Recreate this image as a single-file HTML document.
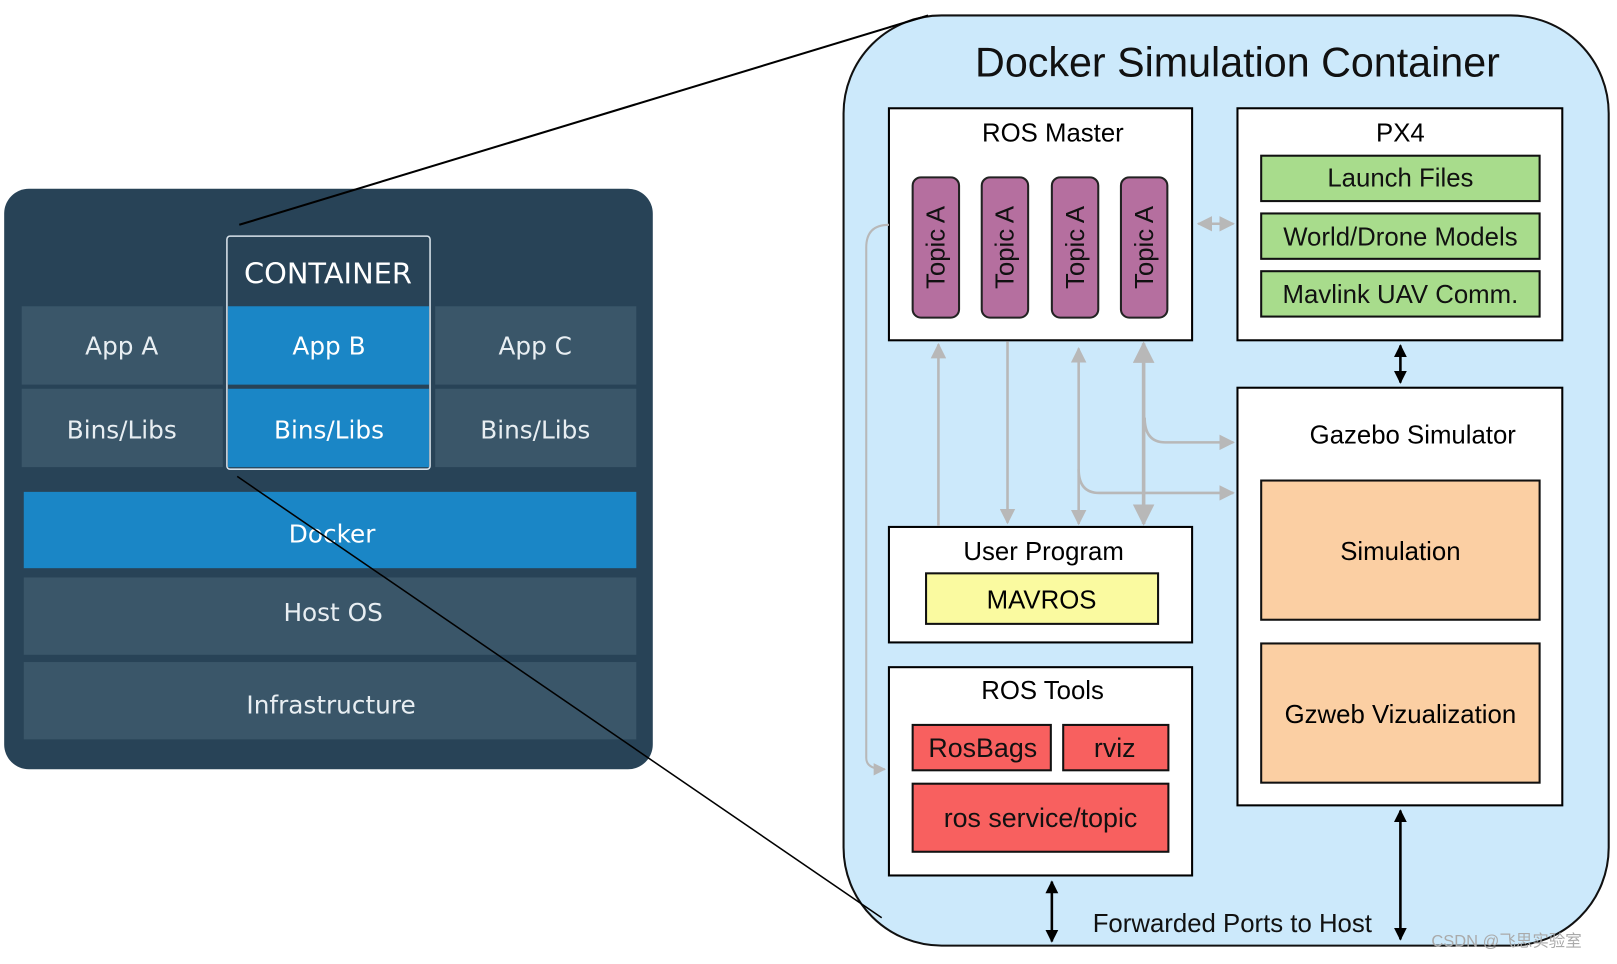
<!DOCTYPE html>
<html><head><meta charset="utf-8"><style>html,body{margin:0;padding:0;background:#fff;overflow:hidden}</style></head>
<body>
<svg width="1617" height="959" viewBox="0 0 1568 930" xmlns="http://www.w3.org/2000/svg" font-family="Liberation Sans, sans-serif">
<defs>
<marker id="ga" viewBox="0 0 10 10" refX="9" refY="5" markerWidth="6" markerHeight="6" orient="auto-start-reverse"><path d="M0,0L10,5L0,10z" fill="#b8b8b8"/></marker>
<marker id="ba" viewBox="0 0 10 10" refX="9" refY="5" markerWidth="5" markerHeight="5" orient="auto-start-reverse"><path d="M0,0L10,5L0,10z" fill="#000"/></marker>
</defs>
<rect width="1568" height="930" fill="#fff"/>
<rect x="4" y="183" width="629" height="563" rx="24" fill="#284357"/>
<rect x="220" y="229" width="197" height="226" fill="#284357" stroke="#d8e2ea" stroke-width="1.5" rx="3"/>
<text x="318" y="275" fill="#fff" font-size="28" text-anchor="middle" font-family="DejaVu Sans, sans-serif">CONTAINER</text>
<g font-family="DejaVu Sans, sans-serif" font-size="24" text-anchor="middle" fill="#e8eef2">
<rect x="21" y="297" width="195" height="76" fill="#3a5669"/>
<rect x="221" y="297" width="195" height="76" fill="#1a86c6"/>
<rect x="422" y="297" width="195" height="76" fill="#3a5669"/>
<rect x="21" y="377" width="195" height="76" fill="#3a5669"/>
<rect x="221" y="377" width="195" height="76" fill="#1a86c6"/>
<rect x="422" y="377" width="195" height="76" fill="#3a5669"/>
<text x="118" y="344">App A</text><text x="319" y="344" fill="#fff">App B</text><text x="519" y="344">App C</text>
<text x="118" y="425">Bins/Libs</text><text x="319" y="425" fill="#fff">Bins/Libs</text><text x="519" y="425">Bins/Libs</text>
<rect x="23" y="477" width="594" height="74" fill="#1a86c6"/>
<text x="322" y="526" fill="#fff">Docker</text>
<rect x="23" y="560" width="594" height="75" fill="#3a5669"/>
<text x="323" y="602">Host OS</text>
<rect x="23" y="642" width="594" height="75" fill="#3a5669"/>
<text x="321" y="692">Infrastructure</text>
</g>
<rect x="818" y="15" width="742" height="902" rx="95" fill="#cce9fb" stroke="#111" stroke-width="2"/>
<text x="1200" y="74" font-size="40" text-anchor="middle" fill="#111">Docker Simulation Container</text>
<rect x="862" y="105" width="294" height="225" fill="#fff" stroke="#000" stroke-width="2"/>
<text x="1021" y="137" font-size="25" text-anchor="middle">ROS Master</text>
<g fill="#b56f9f" stroke="#222" stroke-width="2">
<rect x="885" y="172" width="45" height="136" rx="8"/><rect x="952" y="172" width="45" height="136" rx="8"/>
<rect x="1020" y="172" width="45" height="136" rx="8"/><rect x="1087" y="172" width="45" height="136" rx="8"/>
</g>
<g font-size="25" fill="#111" text-anchor="middle">
<text transform="translate(916,240) rotate(-90)">Topic A</text>
<text transform="translate(983,240) rotate(-90)">Topic A</text>
<text transform="translate(1051,240) rotate(-90)">Topic A</text>
<text transform="translate(1118,240) rotate(-90)">Topic A</text>
</g>
<rect x="1200" y="105" width="315" height="225" fill="#fff" stroke="#000" stroke-width="2"/>
<text x="1358" y="137" font-size="25" text-anchor="middle">PX4</text>
<g fill="#a8dc8c" stroke="#111" stroke-width="2">
<rect x="1223" y="151" width="270" height="44"/><rect x="1223" y="207" width="270" height="44"/><rect x="1223" y="263" width="270" height="44"/>
</g>
<g font-size="25" text-anchor="middle" fill="#111">
<text x="1358" y="181">Launch Files</text><text x="1358" y="238">World/Drone Models</text><text x="1358" y="294">Mavlink UAV Comm.</text>
</g>
<rect x="1200" y="376" width="315" height="405" fill="#fff" stroke="#000" stroke-width="2"/>
<text x="1370" y="430" font-size="25" text-anchor="middle">Gazebo Simulator</text>
<rect x="1223" y="466" width="270" height="135" fill="#fbcfa3" stroke="#111" stroke-width="2"/>
<rect x="1223" y="624" width="270" height="135" fill="#fbcfa3" stroke="#111" stroke-width="2"/>
<text x="1358" y="543" font-size="25" text-anchor="middle">Simulation</text>
<text x="1358" y="701" font-size="25" text-anchor="middle">Gzweb Vizualization</text>
<rect x="862" y="511" width="294" height="112" fill="#fff" stroke="#000" stroke-width="2"/>
<text x="1012" y="543" font-size="25" text-anchor="middle">User Program</text>
<rect x="898" y="556" width="225" height="49" fill="#fafaa0" stroke="#111" stroke-width="2"/>
<text x="1010" y="590" font-size="25" text-anchor="middle">MAVROS</text>
<rect x="862" y="647" width="294" height="202" fill="#fff" stroke="#000" stroke-width="2"/>
<text x="1011" y="678" font-size="25" text-anchor="middle">ROS Tools</text>
<g fill="#f8605f" stroke="#111" stroke-width="2">
<rect x="885" y="703" width="134" height="44"/><rect x="1031" y="703" width="102" height="44"/><rect x="885" y="760" width="248" height="66"/>
</g>
<g font-size="26" text-anchor="middle" fill="#111">
<text x="953" y="734">RosBags</text><text x="1081" y="734">rviz</text><text x="1009" y="802">ros service/topic</text>
</g>
<g stroke="#b8b8b8" stroke-width="2.5" fill="none">
<line x1="1162" y1="217" x2="1196" y2="217" marker-start="url(#ga)" marker-end="url(#ga)"/>
<line x1="910" y1="510" x2="910" y2="334" marker-end="url(#ga)"/>
<line x1="977" y1="331" x2="977" y2="507" marker-end="url(#ga)"/>
<line x1="1046" y1="338" x2="1046" y2="508" marker-start="url(#ga)" marker-end="url(#ga)"/>
<path d="M1046,455 Q1046,478 1066,478 L1196,478" marker-end="url(#ga)"/>
<line x1="1109" y1="333" x2="1109" y2="508" stroke-width="3.5" marker-start="url(#ga)" marker-end="url(#ga)"/>
<path d="M1110,405 Q1110,429 1130,429 L1196,429" marker-end="url(#ga)"/>
<path d="M862,218 Q840,218 840,240 L840,735 Q840,746 858,746" stroke-width="2" marker-end="url(#ga)"/>
</g>
<g stroke="#000" stroke-width="2.5" fill="none">
<line x1="1358" y1="335" x2="1358" y2="371" marker-start="url(#ba)" marker-end="url(#ba)"/>
<line x1="1358" y1="786" x2="1358" y2="911" marker-start="url(#ba)" marker-end="url(#ba)"/>
<line x1="1020" y1="855" x2="1020" y2="913" marker-start="url(#ba)" marker-end="url(#ba)"/>
</g>
<text x="1195" y="904" font-size="25" text-anchor="middle" fill="#111">Forwarded Ports to Host</text>
<line x1="232" y1="218" x2="900" y2="15" stroke="#000" stroke-width="2"/>
<line x1="230" y1="462" x2="855" y2="890" stroke="#000" stroke-width="1.5"/>
<text x="1388" y="918" font-size="16" fill="#aaa" font-family="Liberation Sans, Noto Sans CJK SC, sans-serif">CSDN @飞思实验室</text>
</svg>
</body></html>
